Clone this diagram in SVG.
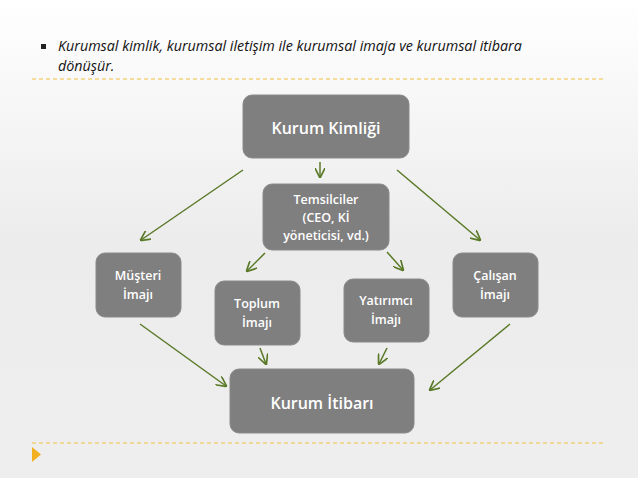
<svg xmlns="http://www.w3.org/2000/svg" width="638" height="478" viewBox="0 0 638 478">
<defs>
<linearGradient id="bg" x1="0" y1="0" x2="0" y2="1"><stop offset="0" stop-color="#ffffff"/><stop offset="0.5" stop-color="#ececec"/><stop offset="1" stop-color="#eeeeee"/></linearGradient>
<marker id="ah" viewBox="0 0 10 10" refX="9" refY="5" markerWidth="7" markerHeight="7" orient="auto"><path d="M0,0 L10,5 L0,10" fill="none" stroke="#5a7a28" stroke-width="1.6"/></marker>
<style>
.box{fill:#7f7f7f;stroke:#8a8a8a;stroke-width:1}
.t{font-family:"Open Sans","DejaVu Sans",sans-serif;font-weight:600;fill:#fff;text-anchor:middle}
.c{stroke:#5a7a28;stroke-width:1.5;fill:none;marker-end:url(#ah)}
.d{stroke:#f0c040;stroke-width:1.2;stroke-dasharray:4 3}
</style>
</defs>
<rect width="638" height="478" fill="url(#bg)"/>
<rect x="41" y="44" width="5" height="5" fill="#222"/>
<text font-family="Open Sans, DejaVu Sans, sans-serif" font-style="italic" font-size="14.3" fill="#111"><tspan x="58" y="51">Kurumsal kimlik, kurumsal iletişim ile kurumsal imaja ve kurumsal itibara</tspan><tspan x="58" y="71">dönüşür.</tspan></text>
<line class="d" x1="32" y1="79" x2="606" y2="79"/>
<line class="d" x1="32" y1="443" x2="606" y2="443"/>
<path d="M32,447 L41,454.5 L32,462 Z" fill="#f0b020"/>
<g id="kimlik"><rect class="box" x="243" y="95" width="166" height="63" rx="9"/><text class="t" x="326" y="134" font-size="16">Kurum Kimliği</text></g>
<g id="temsilciler"><rect class="box" x="263" y="184" width="126" height="66" rx="9"/><text class="t" font-size="12.5"><tspan x="326" y="204">Temsilciler</tspan><tspan x="326" y="222">(CEO, Kİ</tspan><tspan x="326" y="240">yöneticisi, vd.)</tspan></text></g>
<g id="musteri"><rect class="box" x="96" y="253" width="85" height="64" rx="9"/><text class="t" font-size="12.5"><tspan x="138" y="280">Müşteri</tspan><tspan x="138" y="299">İmajı</tspan></text></g>
<g id="toplum"><rect class="box" x="215" y="281" width="85" height="64" rx="9"/><text class="t" font-size="12.5"><tspan x="257" y="308">Toplum</tspan><tspan x="257" y="327">İmajı</tspan></text></g>
<g id="yatirimci"><rect class="box" x="344" y="279" width="85" height="63" rx="9"/><text class="t" font-size="12.5"><tspan x="386" y="305">Yatırımcı</tspan><tspan x="386" y="324">İmajı</tspan></text></g>
<g id="calisan"><rect class="box" x="453" y="253" width="85" height="64" rx="9"/><text class="t" font-size="12.5"><tspan x="495" y="280">Çalışan</tspan><tspan x="495" y="299">İmajı</tspan></text></g>
<g id="itibar"><rect class="box" x="230" y="369" width="184" height="64" rx="9"/><text class="t" x="322" y="409" font-size="16">Kurum İtibarı</text></g>
<g id="connectors">
<line class="c" x1="243" y1="170" x2="141" y2="240"/>
<line class="c" x1="320" y1="162" x2="320" y2="177"/>
<line class="c" x1="397" y1="170" x2="480" y2="240"/>
<line class="c" x1="265" y1="253" x2="247" y2="271"/>
<line class="c" x1="387" y1="252" x2="403" y2="270"/>
<line class="c" x1="140" y1="324" x2="226" y2="386"/>
<line class="c" x1="510" y1="324" x2="430" y2="390"/>
<line class="c" x1="260" y1="348" x2="266" y2="364"/>
<line class="c" x1="387" y1="348" x2="379" y2="364"/>
</g>
</svg>
